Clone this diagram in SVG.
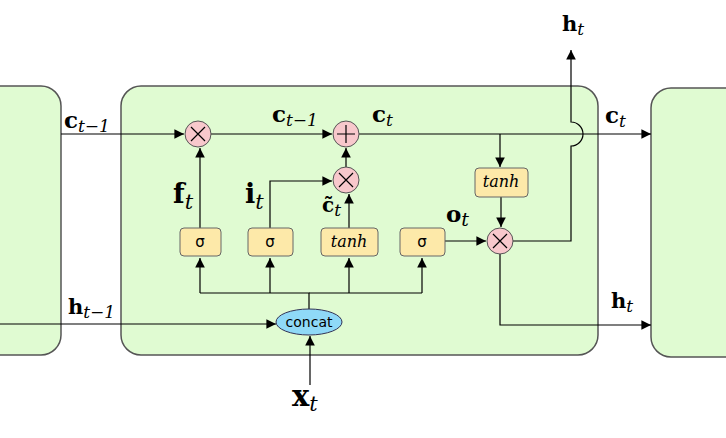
<svg xmlns="http://www.w3.org/2000/svg" width="726" height="438" viewBox="0 0 726 438">
<defs>
<marker id="a" viewBox="0 0 10 10" refX="10" refY="5" markerWidth="8" markerHeight="8" orient="auto"><path d="M0,0 L10,5 L0,10 z" fill="#000"/></marker>
<style>
.cell{fill:#e0fbd2;stroke:#555;stroke-width:1.5}
.g{fill:#fde9a9;stroke:#666;stroke-width:1}
.op{fill:#f8c8cc;stroke:#555;stroke-width:1}
.l{fill:none;stroke:#000;stroke-width:1.2}
.t{font-family:"DejaVu Serif",serif;font-size:23px;font-weight:bold}
.s{font-family:"DejaVu Serif",serif;font-size:17px;font-style:italic;font-weight:normal}
.gt{font-family:"DejaVu Sans",sans-serif;font-size:15px;text-anchor:middle}
.gi{font-family:"DejaVu Serif",serif;font-size:16px;font-style:italic;text-anchor:middle}
</style>
</defs>
<g id="left"><rect class="cell" x="-30" y="86" width="91" height="269" rx="20"/></g>
<g id="cell"><rect class="cell" x="121" y="86" width="477" height="269" rx="20"/></g>
<g id="right"><rect class="cell" x="651" y="88" width="110" height="269" rx="20"/></g>
<g id="connectors">
<path class="l" d="M61,134 H184" marker-end="url(#a)"/>
<path class="l" d="M211,134 H332" marker-end="url(#a)"/>
<path class="l" d="M359,134 H651" marker-end="url(#a)"/>
<path class="l" d="M500,134 V167" marker-end="url(#a)"/>
<path class="l" d="M501,197 V227" marker-end="url(#a)"/>
<path class="l" d="M200,228 V148" marker-end="url(#a)"/>
<path class="l" d="M270,228 V181 H332" marker-end="url(#a)"/>
<path class="l" d="M349,228 V194" marker-end="url(#a)"/>
<path class="l" d="M346,167 V148" marker-end="url(#a)"/>
<path class="l" d="M445,241 H486" marker-end="url(#a)"/>
<path class="l" d="M513,241 H571 V146 A12,12 0 0 0 571,122 V50" marker-end="url(#a)"/>
<path class="l" d="M500,254 V325 H651" marker-end="url(#a)"/>
<path class="l" d="M0,324 H276" marker-end="url(#a)"/>
<path class="l" d="M310,385 V336" marker-end="url(#a)"/>
<path class="l" d="M309,309 V293 H200"/>
<path class="l" d="M309,293 H422"/>
<path class="l" d="M200,293 V258" marker-end="url(#a)"/>
<path class="l" d="M270,293 V258" marker-end="url(#a)"/>
<path class="l" d="M349,293 V258" marker-end="url(#a)"/>
<path class="l" d="M422,293 V258" marker-end="url(#a)"/>
</g>
<g id="gate-f"><rect class="g" x="180" y="228" width="41" height="28" rx="4"/><text class="gt" x="200" y="247">σ</text></g>
<g id="gate-i"><rect class="g" x="248" y="228" width="45" height="28" rx="4"/><text class="gt" x="270" y="247">σ</text></g>
<g id="gate-c"><rect class="g" x="321" y="228" width="57" height="28" rx="4"/><text class="gi" x="349" y="247">tanh</text></g>
<g id="gate-o"><rect class="g" x="400" y="228" width="45" height="28" rx="4"/><text class="gt" x="422" y="247">σ</text></g>
<g id="tanh-out"><rect class="g" x="475" y="168" width="53" height="29" rx="4"/><text class="gi" x="501" y="187">tanh</text></g>
<g id="mul-f"><circle class="op" cx="198" cy="134" r="13"/><path class="l" d="M191,127 L205,141 M205,127 L191,141"/></g>
<g id="add"><circle class="op" cx="346" cy="134" r="13"/><path class="l" d="M346,125 V143 M337,134 H355"/></g>
<g id="mul-i"><circle class="op" cx="346" cy="180" r="13"/><path class="l" d="M339,173 L353,187 M353,173 L339,187"/></g>
<g id="mul-o"><circle class="op" cx="500" cy="241" r="13"/><path class="l" d="M493,234 L507,248 M507,234 L493,248"/></g>
<g id="concat"><ellipse cx="309" cy="322" rx="33" ry="13" fill="#8fd9f7" stroke="#335" stroke-width="1"/><text x="309" y="327" font-family="DejaVu Sans,sans-serif" font-size="14" text-anchor="middle">concat</text></g>
<g id="labels">
<text class="t" x="64" y="128">c<tspan class="s" dy="4">t−1</tspan></text>
<text class="t" x="272" y="122">c<tspan class="s" dy="4">t−1</tspan></text>
<text class="t" x="372" y="122">c<tspan class="s" dy="4">t</tspan></text>
<text class="t" x="605" y="123">c<tspan class="s" dy="4">t</tspan></text>
<text class="t" x="173" y="203" style="font-size:27px">f<tspan class="s" dy="6" style="font-size:21px">t</tspan></text>
<text class="t" x="245" y="203" style="font-size:27px">i<tspan class="s" dy="6" style="font-size:21px">t</tspan></text>
<text class="t" x="322" y="212" style="font-size:20px">c̃<tspan class="s" dy="4">t</tspan></text>
<text class="t" x="446" y="222">o<tspan class="s" dy="4" style="font-size:19px">t</tspan></text>
<text class="t" x="68" y="314" style="font-size:21px">h<tspan class="s" dy="4">t−1</tspan></text>
<text class="t" x="611" y="308" style="font-size:21px">h<tspan class="s" dy="4">t</tspan></text>
<text class="t" x="562" y="31" style="font-size:21px">h<tspan class="s" dy="4">t</tspan></text>
<text class="t" x="292" y="406" style="font-size:29px">x<tspan class="s" dy="5" style="font-size:21px">t</tspan></text>
</g>
</svg>
